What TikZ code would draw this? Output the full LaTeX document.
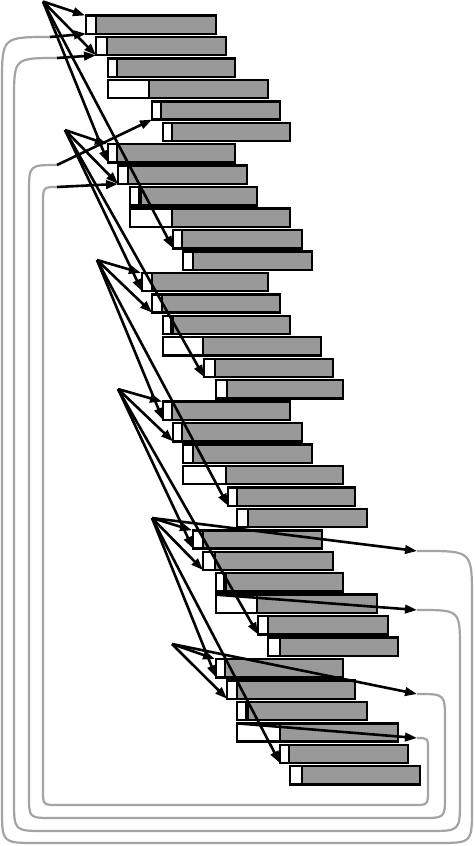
\documentclass[tikz,border=0pt]{standalone}
\usetikzlibrary{arrows.meta}
\definecolor{barfill}{HTML}{999999}
\definecolor{loopgray}{HTML}{A4A4A4}
\tikzset{
  wbox/.style={draw=black, line width=2.4pt, fill=white, inner sep=0pt, outer sep=0pt, anchor=north west, minimum height=18.3pt},
  gbox/.style={wbox, fill=barfill},
  arr/.style={line width=2.6pt, -{Triangle[length=12pt,width=8.5pt]}},
  fbloop/.style={draw=loopgray, line width=2.2pt},
}
\newcommand\piperow[5]{%
  \pgfmathsetmacro\yt{15.5+21.45*((#1-1)*6+#2-1)}%
  \pgfmathsetmacro\ww{#4-#3}%
  \pgfmathsetmacro\gw{#5-#4}%
  \node[gbox, minimum width=\gw pt] (g#1#2) at (#4,\yt) {};%
  \node[wbox, minimum width=\ww pt] (w#1#2) at (#3,\yt) {};%
}
\newcommand\thickbar[2]{%
  \pgfmathsetmacro\yt{15.5+21.45*((#1-1)*6+2)}%
  \fill[black] (#2-1,\yt) rectangle (#2+3,\yt+18.3);%
}
\begin{document}
\begin{tikzpicture}[x=1pt,y=-1pt]
\fill[white] (0,0) rectangle (474,846);
\useasboundingbox (0,0) rectangle (474,846);
% group 1
\piperow{1}{1}{86}{96}{216}
\piperow{1}{2}{96}{107}{226}
\piperow{1}{3}{108}{117}{235}
\piperow{1}{4}{108}{149}{268}
\piperow{1}{5}{152}{161}{280}
\piperow{1}{6}{163}{172}{290}
% group 2
\piperow{2}{1}{108}{117}{235}
\piperow{2}{2}{118}{128}{247}
\piperow{2}{3}{130}{140}{257}
\piperow{2}{4}{130}{172}{290}
\piperow{2}{5}{173}{182}{302}
\piperow{2}{6}{183}{193}{312}
% group 3
\piperow{3}{1}{142}{152}{268}
\piperow{3}{2}{152}{162}{280}
\piperow{3}{3}{163}{172}{290}
\piperow{3}{4}{163}{203}{321}
\piperow{3}{5}{204}{215}{333}
\piperow{3}{6}{216}{227}{343}
% group 4
\piperow{4}{1}{163}{172}{290}
\piperow{4}{2}{173}{182}{302}
\piperow{4}{3}{183}{193}{312}
\piperow{4}{4}{183}{226}{343}
\piperow{4}{5}{228}{237}{355}
\piperow{4}{6}{237}{248}{367}
% group 5
\piperow{5}{1}{193}{203}{322}
\piperow{5}{2}{203}{215}{333}
\piperow{5}{3}{216}{225}{343}
\piperow{5}{4}{216}{257}{377}
\piperow{5}{5}{258}{268}{388}
\piperow{5}{6}{268}{280}{398}
% group 6
\piperow{6}{1}{216}{225}{343}
\piperow{6}{2}{227}{237}{355}
\piperow{6}{3}{237}{247}{367}
\piperow{6}{4}{237}{280}{398}
\piperow{6}{5}{280}{289}{408}
\piperow{6}{6}{290}{302}{420}
\thickbar{2}{139}\thickbar{3}{171}\thickbar{5}{224}\thickbar{6}{246}
% sources and loop points
\coordinate (S1) at (43,1.5);
\coordinate (S2) at (65,130);
\coordinate (S3) at (97,260);
\coordinate (S4) at (118,389);
\coordinate (S5) at (152,518);
\coordinate (S6) at (172,644);
\coordinate (F1) at (417,551);
\coordinate (F2) at (417,610);
\coordinate (F3) at (417,694);
\coordinate (F4) at (417,738);
\coordinate (E1) at (50,37);
\coordinate (E2) at (57,58);
\coordinate (E3) at (57,165);
\coordinate (E4) at (57,187);
% grey feedback loops
\draw[fbloop] (F1) -- (424,551) .. controls (472,551) .. (472,599) -- (472,808) .. controls (472,843) .. (437,843) -- (37,843) .. controls (2,843) .. (2,808) -- (2,83) .. controls (2,37) .. (E1);
\draw[fbloop] (F2) -- (420,610) .. controls (460,610) .. (460,650) -- (460,800) .. controls (460,831) .. (429,831) -- (45,831) .. controls (14,831) .. (14,800) -- (14,100) .. controls (14,58) .. (E2);
\draw[fbloop] (F3) -- (418,694) .. controls (445,694) .. (445,721) -- (445,795) .. controls (445,818) .. (422,818) -- (52,818) .. controls (29,818) .. (29,795) -- (29,193) .. controls (29,165) .. (E3);
\draw[fbloop] (F4) .. controls (428,738) .. (428,750) -- (428,790) .. controls (428,805) .. (413,805) -- (58,805) .. controls (43,805) .. (43,790) -- (43,205) .. controls (43,187) .. (E4);
% entry arrows
\draw[arr] (E1) -- (w11.south west);
\draw[arr] (E2) -- (w12.south west);
\draw[arr] (E3) -- (w15.south west);
\draw[arr] (E4) -- (w22.south west);
% arrows from each source
\foreach \g in {1,...,6}{
  \draw[arr] (S\g) -- ([xshift=-1pt]w\g1.north west);
  \draw[arr] (S\g) -- (w\g2.south west);
}
\foreach \g/\n in {1/2,2/3,3/4,4/5,5/6}{
  \draw[arr] (S\g) -- (w\n1.south west);
  \draw[arr] (S\g) -- (w\n5.south west);
}
% arrows leaving to the loops
\draw[arr] (S5) -- (F1);
\draw[arr] (w54.north west) -- (F2);
\draw[arr] (S6) -- (F3);
\draw[arr] (w64.north west) -- (F4);
\end{tikzpicture}
\end{document}
